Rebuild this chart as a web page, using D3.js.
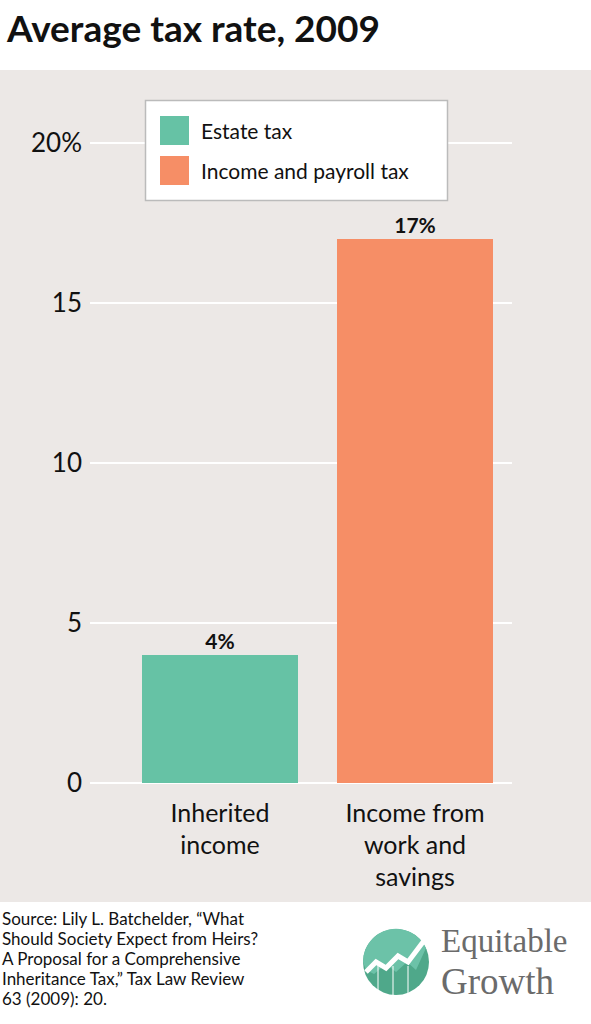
<!DOCTYPE html>
<html><head><meta charset="utf-8">
<script src="https://cdn.jsdelivr.net/npm/d3@7"></script>
<style>body{margin:0;background:#fff}svg{display:block;font-family:Lato,"Open Sans",sans-serif}</style>
</head><body>
<svg width="591" height="1024"></svg>
<script>
var categories = [["Inherited", "income"], ["Income from", "work and", "savings"]];
var values = [4, 17];
var seriesNames = ["Estate tax", "Income and payroll tax"];
var colors = ["#66c2a5", "#f68e66"];
var tickValues = [0, 5, 10, 15, 20];

var svg = d3.select("svg");
svg.append("text").attr("x", 7).attr("y", 42).attr("font-size", 37).attr("font-weight", 700)
  .attr("fill", "#111").text("Average tax rate, 2009");
svg.append("rect").attr("x", 0).attr("y", 70).attr("width", 591).attr("height", 832).attr("fill", "#ece8e6");

var x = d3.scaleBand().domain([0, 1]).range([122.5, 512.5]).paddingInner(0.2).paddingOuter(0.1);
var y = d3.scaleLinear().domain([0, 20]).range([783, 143]);

var grid = svg.append("g");
grid.selectAll("line").data(tickValues).enter().append("line")
  .attr("x1", 90).attr("x2", 512).attr("y1", function (d) { return y(d); }).attr("y2", function (d) { return y(d); })
  .attr("stroke", "#fff").attr("stroke-width", 2);
grid.selectAll("text").data(tickValues).enter().append("text")
  .attr("x", 82).attr("y", function (d) { return y(d) + 9; }).attr("text-anchor", "end")
  .attr("font-size", 26).attr("fill", "#111").text(function (d) { return d === 20 ? "20%" : d; });

svg.selectAll(".bar").data(values).enter().append("rect").attr("class", "bar")
  .attr("x", function (d, i) { return x(i); }).attr("width", x.bandwidth())
  .attr("y", function (d) { return y(d); }).attr("height", function (d) { return y(0) - y(d); })
  .attr("fill", function (d, i) { return colors[i]; });
svg.selectAll(".val").data(values).enter().append("text")
  .attr("x", function (d, i) { return x(i) + x.bandwidth() / 2; }).attr("y", function (d) { return y(d) - 6; })
  .attr("text-anchor", "middle").attr("font-size", 21).attr("font-weight", 700).attr("fill", "#111")
  .text(function (d) { return d + "%"; });
categories.forEach(function (c, i) {
  var t = svg.append("text").attr("text-anchor", "middle").attr("font-size", 25).attr("fill", "#111");
  c.forEach(function (line, j) {
    t.append("tspan").attr("x", x(i) + x.bandwidth() / 2).attr("y", 822 + j * 32).text(line);
  });
});

// legend
var lg = svg.append("g");
lg.append("rect").attr("x", 145.5).attr("y", 100.5).attr("width", 302).attr("height", 100)
  .attr("fill", "#fff").attr("stroke", "#bbb").attr("stroke-width", 1.5);
seriesNames.forEach(function (n, i) {
  lg.append("rect").attr("x", 160).attr("y", 116 + i * 40).attr("width", 29).attr("height", 29).attr("fill", colors[i]);
  lg.append("text").attr("x", 201).attr("y", 139 + i * 40).attr("font-size", 21).attr("fill", "#111").text(n);
});

// source
var src = svg.append("text").attr("font-size", 17).attr("fill", "#111");
["Source: Lily L. Batchelder, \u201cWhat", "Should Society Expect from Heirs?", "A Proposal for a Comprehensive",
 "Inheritance Tax,\u201d Tax Law Review", "63 (2009): 20."].forEach(function (l, j) {
  src.append("tspan").attr("x", 2).attr("y", 925 + j * 20).text(l);
});

// logo
var logo = svg.append("g");
logo.append("circle").attr("cx", 396).attr("cy", 962).attr("r", 33).attr("fill", "#4fa88a");
logo.append("path").attr("d", "M363,962 A33,33 0 0 1 426,948 L416,970 L407,962 L396,972 L386,964 L374,974 L366,970 Z")
  .attr("fill", "#6cc2a8");
logo.append("path").attr("d", "M366,972 L376,962 L386,968 L398,956 L408,962 L426,938")
  .attr("fill", "none").attr("stroke", "#fff").attr("stroke-width", 5);
[378, 393, 408].forEach(function (px) {
  logo.append("line").attr("x1", px).attr("x2", px).attr("y1", 966).attr("y2", 995).attr("stroke", "#fff").attr("stroke-width", 1);
});
logo.append("text").attr("x", 441).attr("y", 952).attr("font-family", "'Liberation Serif',serif")
  .attr("font-size", 33).attr("fill", "#6b6b6b").text("Equitable");
logo.append("text").attr("x", 441).attr("y", 994).attr("font-family", "'Liberation Serif',serif")
  .attr("font-size", 37).attr("fill", "#6b6b6b").text("Growth");
</script>
</body></html>
